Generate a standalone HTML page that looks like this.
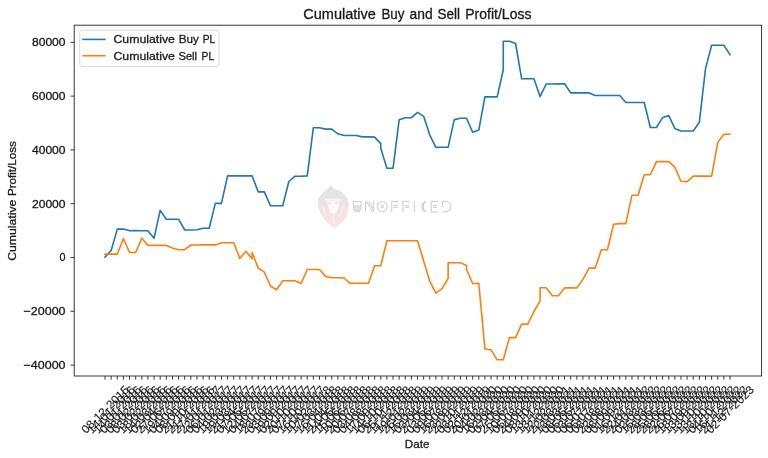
<!DOCTYPE html>
<html><head><meta charset="utf-8"><style>
html,body{margin:0;padding:0;background:#fff;width:768px;height:458px;overflow:hidden}
svg{display:block;filter:blur(0.3px);font-family:"Liberation Sans",sans-serif}
text{filter:grayscale(1);stroke:#1a1a1a;stroke-width:0.3px}
</style></head><body>
<svg width="768" height="458" viewBox="0 0 768 458">
<rect width="768" height="458" fill="#fff"/>
<defs><linearGradient id="lg" x1="0" y1="0" x2="0" y2="1"><stop offset="0" stop-color="#e3e3e3"/><stop offset="0.35" stop-color="#e9e4e4"/><stop offset="0.6" stop-color="#f3e2e2"/><stop offset="1" stop-color="#f6e8e8"/></linearGradient></defs>
<polygon points="330.9,185.6 334.5,189.2 339.7,190.2 342.7,193.3 345.8,196.3 347.9,199.4 348.9,203.5 348.4,209.7 346.9,214.8 344.8,218.9 341.7,223.0 337.6,226.1 334.5,228.7 331.5,226.1 327.3,223.0 323.2,217.9 320.2,212.8 318.1,207.6 317.6,202.5 318.6,197.4 321.7,194.3 324.3,191.2 327.3,189.2 329.4,187.1" fill="url(#lg)"/>
<polygon points="324.3,198.4 341.7,198.4 340.2,200.7 325.8,200.7" fill="#f8f6f6"/>
<polygon points="326.8,201.3 339.2,201.3 338.4,207.1 336.6,212.3 333.3,214.3 330.2,212.3 328.4,207.1" fill="#fbf9f9"/>
<polygon points="327.9,202.0 331.5,203.0 329.4,204.6" fill="#ebe3e3"/>
<polygon points="338.1,202.0 334.5,203.0 336.6,204.6" fill="#ebe3e3"/>
<polyline points="322.7,205.6 324.3,211.7 326.3,216.9" stroke="#faf4f4" stroke-width="1.1" fill="none"/>
<polyline points="343.3,205.6 341.7,211.7 339.7,216.9" stroke="#faf4f4" stroke-width="1.1" fill="none"/>
<polyline points="333.0,215.9 334.0,222.0 334.5,226.1" stroke="#faf2f2" stroke-width="0.9" fill="none"/>

<g fill="none" stroke="#d2d2d2" stroke-width="1.15">
<path d="M353.4,201.6 h7.6 v5.5 a3.8,4.5 0 0 1 -7.6,0 z M354,205.8 h6.4 M354,207.8 h6.4 M354.6,209.8 h5.2"/>
<path d="M365.6,212 v-10.6 M373.4,212 v-10.6 M366.4,201.4 l6.2,10.6 M368.6,201.4 l5,8.6"/>
<circle cx="382.2" cy="206.5" r="5"/><circle cx="382.2" cy="206.5" r="1.1"/>
<path d="M391.7,212 v-10.6 h6.8 M393.3,205.5 h4.6 M393.3,207.4 h4.6"/>
<path d="M402.9,212 v-10.6 h6.6 M404.7,205.5 h4.3 M404.7,207.4 h4.3"/>
<path d="M414.3,201.3 v10.6"/>
<path d="M426.2,201.5 a5.6,5.3 0 0 0 0,10.3 a5,5.6 0 0 1 0,-10.3 z"/>
<path d="M438.1,201.3 h-6.9 v10.5 h6.9 M432.9,205.5 h4 M432.9,207.4 h4"/>
<path d="M442.6,207 v-5.7 h3 a5.2,5.2 0 0 1 0,10.5 h-3"/>
</g>
<polyline points="105.04,257.10 111.17,250.50 117.29,229.10 123.42,229.10 129.55,230.80 135.68,230.60 141.80,230.70 147.93,230.70 154.06,238.20 160.18,210.40 166.31,219.20 172.44,219.20 178.57,219.20 184.69,230.00 190.82,230.00 196.95,229.70 203.07,228.30 209.20,228.30 215.33,203.40 221.45,203.40 227.58,175.90 233.71,175.90 239.84,175.90 245.96,175.90 252.09,175.90 258.22,191.90 264.34,191.90 270.47,205.70 276.60,205.70 282.73,205.70 288.85,181.50 294.98,176.20 301.11,176.20 307.23,175.90 313.36,127.70 319.49,127.70 325.62,129.10 331.74,129.10 337.87,133.80 344.00,135.50 350.12,135.50 356.25,135.50 362.38,136.90 368.51,136.90 374.63,137.10 380.76,143.60 380.76,148.20 386.89,168.30 393.01,168.30 399.14,119.80 405.27,117.70 411.40,117.70 417.52,112.40 423.65,116.30 429.78,135.10 435.90,147.40 442.03,147.20 448.16,147.10 454.28,119.60 460.41,118.20 466.54,118.20 472.67,132.20 478.79,130.10 484.92,96.90 491.05,96.90 497.17,96.90 503.30,69.70 503.30,41.30 509.43,41.30 515.56,43.50 521.68,78.80 527.81,78.80 533.94,78.80 540.06,96.60 546.19,84.00 552.32,84.00 558.45,83.90 564.57,83.80 570.70,92.90 576.83,92.90 582.95,92.90 589.08,92.90 595.21,95.50 601.34,95.50 607.46,95.50 613.59,95.50 619.72,95.50 625.84,102.50 631.97,102.50 638.10,102.50 644.22,102.50 650.35,127.50 656.48,127.50 662.61,117.70 668.73,115.60 674.86,128.40 680.99,131.00 687.11,131.00 693.24,131.00 699.37,122.20 705.50,68.90 711.62,45.30 717.75,45.30 723.88,45.30 730.00,54.70" fill="none" stroke="#1f77b4" stroke-width="1.6" stroke-linejoin="round" stroke-linecap="square"/>
<polyline points="105.04,254.10 111.17,254.10 117.29,254.10 123.42,238.50 129.55,252.50 135.68,252.50 141.80,238.20 147.93,245.40 154.06,245.40 160.18,245.40 166.31,245.40 172.44,248.00 178.57,249.70 184.69,249.70 190.82,245.00 196.95,245.00 203.07,244.90 209.20,244.90 215.33,244.90 221.45,242.70 227.58,242.70 233.71,242.70 239.84,258.40 245.96,251.30 252.09,258.90 252.09,252.20 258.22,268.10 264.34,272.20 270.47,286.00 276.60,289.70 282.73,280.80 288.85,280.80 294.98,280.80 301.11,283.50 307.23,269.50 313.36,269.50 319.49,269.50 325.62,276.40 331.74,277.80 337.87,277.80 344.00,278.00 350.12,283.40 356.25,283.30 362.38,283.30 368.51,283.30 374.63,265.70 380.76,265.70 386.89,240.80 393.01,240.80 399.14,240.80 405.27,240.80 411.40,240.80 417.52,240.70 423.65,260.90 429.78,281.40 435.90,293.20 442.03,288.60 448.16,278.40 448.16,262.70 454.28,262.70 460.41,262.80 466.54,265.50 466.54,269.40 472.67,283.50 478.79,283.40 484.92,349.00 491.05,349.90 497.17,359.80 503.30,359.80 509.43,337.60 515.56,337.60 521.68,324.10 527.81,324.10 533.94,311.50 540.06,300.90 540.06,287.80 546.19,287.80 552.32,295.70 558.45,295.70 564.57,287.90 570.70,287.90 576.83,288.00 582.95,279.40 589.08,268.10 595.21,268.10 601.34,249.80 607.46,249.80 613.59,224.30 619.72,223.60 625.84,223.60 631.97,195.20 638.10,195.20 644.22,174.70 650.35,174.70 656.48,161.60 662.61,161.60 668.73,161.60 674.86,167.20 680.99,181.20 687.11,181.70 693.24,176.10 699.37,176.10 705.50,176.10 711.62,176.10 717.75,142.60 723.88,134.20 730.00,134.20" fill="none" stroke="#ff7f0e" stroke-width="1.6" stroke-linejoin="round" stroke-linecap="square"/>
<rect x="74.20" y="25.20" width="687.40" height="350.80" fill="none" stroke="#222" stroke-width="0.9"/>
<line x1="70.50" y1="42.30" x2="74.20" y2="42.30" stroke="#222" stroke-width="0.9"/>
<text x="31.95" y="46.20" font-family="Liberation Sans, sans-serif" font-size="11.50" fill="#1a1a1a" textLength="33.61" lengthAdjust="spacingAndGlyphs">80000</text>
<line x1="70.50" y1="96.10" x2="74.20" y2="96.10" stroke="#222" stroke-width="0.9"/>
<text x="31.95" y="100.00" font-family="Liberation Sans, sans-serif" font-size="11.50" fill="#1a1a1a" textLength="33.61" lengthAdjust="spacingAndGlyphs">60000</text>
<line x1="70.50" y1="149.90" x2="74.20" y2="149.90" stroke="#222" stroke-width="0.9"/>
<text x="31.95" y="153.80" font-family="Liberation Sans, sans-serif" font-size="11.50" fill="#1a1a1a" textLength="33.61" lengthAdjust="spacingAndGlyphs">40000</text>
<line x1="70.50" y1="203.70" x2="74.20" y2="203.70" stroke="#222" stroke-width="0.9"/>
<text x="31.95" y="207.60" font-family="Liberation Sans, sans-serif" font-size="11.50" fill="#1a1a1a" textLength="33.61" lengthAdjust="spacingAndGlyphs">20000</text>
<line x1="70.50" y1="257.50" x2="74.20" y2="257.50" stroke="#222" stroke-width="0.9"/>
<text x="59.55" y="261.40" font-family="Liberation Sans, sans-serif" font-size="11.50" fill="#1a1a1a" textLength="6.01" lengthAdjust="spacingAndGlyphs">0</text>
<line x1="70.50" y1="311.30" x2="74.20" y2="311.30" stroke="#222" stroke-width="0.9"/>
<text x="23.55" y="315.20" font-family="Liberation Sans, sans-serif" font-size="11.50" fill="#1a1a1a" textLength="42.00" lengthAdjust="spacingAndGlyphs">−20000</text>
<line x1="70.50" y1="365.10" x2="74.20" y2="365.10" stroke="#222" stroke-width="0.9"/>
<text x="23.55" y="369.00" font-family="Liberation Sans, sans-serif" font-size="11.50" fill="#1a1a1a" textLength="42.00" lengthAdjust="spacingAndGlyphs">−40000</text>
<line x1="105.04" y1="376.00" x2="105.04" y2="379.70" stroke="#222" stroke-width="0.9"/>
<line x1="111.17" y1="376.00" x2="111.17" y2="379.70" stroke="#222" stroke-width="0.9"/>
<line x1="117.29" y1="376.00" x2="117.29" y2="379.70" stroke="#222" stroke-width="0.9"/>
<line x1="123.42" y1="376.00" x2="123.42" y2="379.70" stroke="#222" stroke-width="0.9"/>
<line x1="129.55" y1="376.00" x2="129.55" y2="379.70" stroke="#222" stroke-width="0.9"/>
<line x1="135.68" y1="376.00" x2="135.68" y2="379.70" stroke="#222" stroke-width="0.9"/>
<line x1="141.80" y1="376.00" x2="141.80" y2="379.70" stroke="#222" stroke-width="0.9"/>
<line x1="147.93" y1="376.00" x2="147.93" y2="379.70" stroke="#222" stroke-width="0.9"/>
<line x1="154.06" y1="376.00" x2="154.06" y2="379.70" stroke="#222" stroke-width="0.9"/>
<line x1="160.18" y1="376.00" x2="160.18" y2="379.70" stroke="#222" stroke-width="0.9"/>
<line x1="166.31" y1="376.00" x2="166.31" y2="379.70" stroke="#222" stroke-width="0.9"/>
<line x1="172.44" y1="376.00" x2="172.44" y2="379.70" stroke="#222" stroke-width="0.9"/>
<line x1="178.57" y1="376.00" x2="178.57" y2="379.70" stroke="#222" stroke-width="0.9"/>
<line x1="184.69" y1="376.00" x2="184.69" y2="379.70" stroke="#222" stroke-width="0.9"/>
<line x1="190.82" y1="376.00" x2="190.82" y2="379.70" stroke="#222" stroke-width="0.9"/>
<line x1="196.95" y1="376.00" x2="196.95" y2="379.70" stroke="#222" stroke-width="0.9"/>
<line x1="203.07" y1="376.00" x2="203.07" y2="379.70" stroke="#222" stroke-width="0.9"/>
<line x1="209.20" y1="376.00" x2="209.20" y2="379.70" stroke="#222" stroke-width="0.9"/>
<line x1="215.33" y1="376.00" x2="215.33" y2="379.70" stroke="#222" stroke-width="0.9"/>
<line x1="221.45" y1="376.00" x2="221.45" y2="379.70" stroke="#222" stroke-width="0.9"/>
<line x1="227.58" y1="376.00" x2="227.58" y2="379.70" stroke="#222" stroke-width="0.9"/>
<line x1="233.71" y1="376.00" x2="233.71" y2="379.70" stroke="#222" stroke-width="0.9"/>
<line x1="239.84" y1="376.00" x2="239.84" y2="379.70" stroke="#222" stroke-width="0.9"/>
<line x1="245.96" y1="376.00" x2="245.96" y2="379.70" stroke="#222" stroke-width="0.9"/>
<line x1="252.09" y1="376.00" x2="252.09" y2="379.70" stroke="#222" stroke-width="0.9"/>
<line x1="258.22" y1="376.00" x2="258.22" y2="379.70" stroke="#222" stroke-width="0.9"/>
<line x1="264.34" y1="376.00" x2="264.34" y2="379.70" stroke="#222" stroke-width="0.9"/>
<line x1="270.47" y1="376.00" x2="270.47" y2="379.70" stroke="#222" stroke-width="0.9"/>
<line x1="276.60" y1="376.00" x2="276.60" y2="379.70" stroke="#222" stroke-width="0.9"/>
<line x1="282.73" y1="376.00" x2="282.73" y2="379.70" stroke="#222" stroke-width="0.9"/>
<line x1="288.85" y1="376.00" x2="288.85" y2="379.70" stroke="#222" stroke-width="0.9"/>
<line x1="294.98" y1="376.00" x2="294.98" y2="379.70" stroke="#222" stroke-width="0.9"/>
<line x1="301.11" y1="376.00" x2="301.11" y2="379.70" stroke="#222" stroke-width="0.9"/>
<line x1="307.23" y1="376.00" x2="307.23" y2="379.70" stroke="#222" stroke-width="0.9"/>
<line x1="313.36" y1="376.00" x2="313.36" y2="379.70" stroke="#222" stroke-width="0.9"/>
<line x1="319.49" y1="376.00" x2="319.49" y2="379.70" stroke="#222" stroke-width="0.9"/>
<line x1="325.62" y1="376.00" x2="325.62" y2="379.70" stroke="#222" stroke-width="0.9"/>
<line x1="331.74" y1="376.00" x2="331.74" y2="379.70" stroke="#222" stroke-width="0.9"/>
<line x1="337.87" y1="376.00" x2="337.87" y2="379.70" stroke="#222" stroke-width="0.9"/>
<line x1="344.00" y1="376.00" x2="344.00" y2="379.70" stroke="#222" stroke-width="0.9"/>
<line x1="350.12" y1="376.00" x2="350.12" y2="379.70" stroke="#222" stroke-width="0.9"/>
<line x1="356.25" y1="376.00" x2="356.25" y2="379.70" stroke="#222" stroke-width="0.9"/>
<line x1="362.38" y1="376.00" x2="362.38" y2="379.70" stroke="#222" stroke-width="0.9"/>
<line x1="368.51" y1="376.00" x2="368.51" y2="379.70" stroke="#222" stroke-width="0.9"/>
<line x1="374.63" y1="376.00" x2="374.63" y2="379.70" stroke="#222" stroke-width="0.9"/>
<line x1="380.76" y1="376.00" x2="380.76" y2="379.70" stroke="#222" stroke-width="0.9"/>
<line x1="386.89" y1="376.00" x2="386.89" y2="379.70" stroke="#222" stroke-width="0.9"/>
<line x1="393.01" y1="376.00" x2="393.01" y2="379.70" stroke="#222" stroke-width="0.9"/>
<line x1="399.14" y1="376.00" x2="399.14" y2="379.70" stroke="#222" stroke-width="0.9"/>
<line x1="405.27" y1="376.00" x2="405.27" y2="379.70" stroke="#222" stroke-width="0.9"/>
<line x1="411.40" y1="376.00" x2="411.40" y2="379.70" stroke="#222" stroke-width="0.9"/>
<line x1="417.52" y1="376.00" x2="417.52" y2="379.70" stroke="#222" stroke-width="0.9"/>
<line x1="423.65" y1="376.00" x2="423.65" y2="379.70" stroke="#222" stroke-width="0.9"/>
<line x1="429.78" y1="376.00" x2="429.78" y2="379.70" stroke="#222" stroke-width="0.9"/>
<line x1="435.90" y1="376.00" x2="435.90" y2="379.70" stroke="#222" stroke-width="0.9"/>
<line x1="442.03" y1="376.00" x2="442.03" y2="379.70" stroke="#222" stroke-width="0.9"/>
<line x1="448.16" y1="376.00" x2="448.16" y2="379.70" stroke="#222" stroke-width="0.9"/>
<line x1="454.28" y1="376.00" x2="454.28" y2="379.70" stroke="#222" stroke-width="0.9"/>
<line x1="460.41" y1="376.00" x2="460.41" y2="379.70" stroke="#222" stroke-width="0.9"/>
<line x1="466.54" y1="376.00" x2="466.54" y2="379.70" stroke="#222" stroke-width="0.9"/>
<line x1="472.67" y1="376.00" x2="472.67" y2="379.70" stroke="#222" stroke-width="0.9"/>
<line x1="478.79" y1="376.00" x2="478.79" y2="379.70" stroke="#222" stroke-width="0.9"/>
<line x1="484.92" y1="376.00" x2="484.92" y2="379.70" stroke="#222" stroke-width="0.9"/>
<line x1="491.05" y1="376.00" x2="491.05" y2="379.70" stroke="#222" stroke-width="0.9"/>
<line x1="497.17" y1="376.00" x2="497.17" y2="379.70" stroke="#222" stroke-width="0.9"/>
<line x1="503.30" y1="376.00" x2="503.30" y2="379.70" stroke="#222" stroke-width="0.9"/>
<line x1="509.43" y1="376.00" x2="509.43" y2="379.70" stroke="#222" stroke-width="0.9"/>
<line x1="515.56" y1="376.00" x2="515.56" y2="379.70" stroke="#222" stroke-width="0.9"/>
<line x1="521.68" y1="376.00" x2="521.68" y2="379.70" stroke="#222" stroke-width="0.9"/>
<line x1="527.81" y1="376.00" x2="527.81" y2="379.70" stroke="#222" stroke-width="0.9"/>
<line x1="533.94" y1="376.00" x2="533.94" y2="379.70" stroke="#222" stroke-width="0.9"/>
<line x1="540.06" y1="376.00" x2="540.06" y2="379.70" stroke="#222" stroke-width="0.9"/>
<line x1="546.19" y1="376.00" x2="546.19" y2="379.70" stroke="#222" stroke-width="0.9"/>
<line x1="552.32" y1="376.00" x2="552.32" y2="379.70" stroke="#222" stroke-width="0.9"/>
<line x1="558.45" y1="376.00" x2="558.45" y2="379.70" stroke="#222" stroke-width="0.9"/>
<line x1="564.57" y1="376.00" x2="564.57" y2="379.70" stroke="#222" stroke-width="0.9"/>
<line x1="570.70" y1="376.00" x2="570.70" y2="379.70" stroke="#222" stroke-width="0.9"/>
<line x1="576.83" y1="376.00" x2="576.83" y2="379.70" stroke="#222" stroke-width="0.9"/>
<line x1="582.95" y1="376.00" x2="582.95" y2="379.70" stroke="#222" stroke-width="0.9"/>
<line x1="589.08" y1="376.00" x2="589.08" y2="379.70" stroke="#222" stroke-width="0.9"/>
<line x1="595.21" y1="376.00" x2="595.21" y2="379.70" stroke="#222" stroke-width="0.9"/>
<line x1="601.34" y1="376.00" x2="601.34" y2="379.70" stroke="#222" stroke-width="0.9"/>
<line x1="607.46" y1="376.00" x2="607.46" y2="379.70" stroke="#222" stroke-width="0.9"/>
<line x1="613.59" y1="376.00" x2="613.59" y2="379.70" stroke="#222" stroke-width="0.9"/>
<line x1="619.72" y1="376.00" x2="619.72" y2="379.70" stroke="#222" stroke-width="0.9"/>
<line x1="625.84" y1="376.00" x2="625.84" y2="379.70" stroke="#222" stroke-width="0.9"/>
<line x1="631.97" y1="376.00" x2="631.97" y2="379.70" stroke="#222" stroke-width="0.9"/>
<line x1="638.10" y1="376.00" x2="638.10" y2="379.70" stroke="#222" stroke-width="0.9"/>
<line x1="644.22" y1="376.00" x2="644.22" y2="379.70" stroke="#222" stroke-width="0.9"/>
<line x1="650.35" y1="376.00" x2="650.35" y2="379.70" stroke="#222" stroke-width="0.9"/>
<line x1="656.48" y1="376.00" x2="656.48" y2="379.70" stroke="#222" stroke-width="0.9"/>
<line x1="662.61" y1="376.00" x2="662.61" y2="379.70" stroke="#222" stroke-width="0.9"/>
<line x1="668.73" y1="376.00" x2="668.73" y2="379.70" stroke="#222" stroke-width="0.9"/>
<line x1="674.86" y1="376.00" x2="674.86" y2="379.70" stroke="#222" stroke-width="0.9"/>
<line x1="680.99" y1="376.00" x2="680.99" y2="379.70" stroke="#222" stroke-width="0.9"/>
<line x1="687.11" y1="376.00" x2="687.11" y2="379.70" stroke="#222" stroke-width="0.9"/>
<line x1="693.24" y1="376.00" x2="693.24" y2="379.70" stroke="#222" stroke-width="0.9"/>
<line x1="699.37" y1="376.00" x2="699.37" y2="379.70" stroke="#222" stroke-width="0.9"/>
<line x1="705.50" y1="376.00" x2="705.50" y2="379.70" stroke="#222" stroke-width="0.9"/>
<line x1="711.62" y1="376.00" x2="711.62" y2="379.70" stroke="#222" stroke-width="0.9"/>
<line x1="717.75" y1="376.00" x2="717.75" y2="379.70" stroke="#222" stroke-width="0.9"/>
<line x1="723.88" y1="376.00" x2="723.88" y2="379.70" stroke="#222" stroke-width="0.9"/>
<line x1="730.00" y1="376.00" x2="730.00" y2="379.70" stroke="#222" stroke-width="0.9"/>
<text transform="translate(105.04,409.70) rotate(-45)" x="0" y="0" font-family="Liberation Sans, sans-serif" font-size="11.5" fill="#1a1a1a" text-anchor="middle" textLength="61.99" lengthAdjust="spacingAndGlyphs" dy="3.9" style="stroke-width:0.1px">08-12-2015</text>
<text transform="translate(111.17,409.70) rotate(-45)" x="0" y="0" font-family="Liberation Sans, sans-serif" font-size="11.5" fill="#1a1a1a" text-anchor="middle" textLength="61.99" lengthAdjust="spacingAndGlyphs" dy="3.9" style="stroke-width:0.1px">14-01-2016</text>
<text transform="translate(117.29,409.70) rotate(-45)" x="0" y="0" font-family="Liberation Sans, sans-serif" font-size="11.5" fill="#1a1a1a" text-anchor="middle" textLength="61.99" lengthAdjust="spacingAndGlyphs" dy="3.9" style="stroke-width:0.1px">14-01-2016</text>
<text transform="translate(123.42,409.70) rotate(-45)" x="0" y="0" font-family="Liberation Sans, sans-serif" font-size="11.5" fill="#1a1a1a" text-anchor="middle" textLength="61.99" lengthAdjust="spacingAndGlyphs" dy="3.9" style="stroke-width:0.1px">03-01-2016</text>
<text transform="translate(129.55,409.70) rotate(-45)" x="0" y="0" font-family="Liberation Sans, sans-serif" font-size="11.5" fill="#1a1a1a" text-anchor="middle" textLength="61.99" lengthAdjust="spacingAndGlyphs" dy="3.9" style="stroke-width:0.1px">08-02-2016</text>
<text transform="translate(135.68,409.70) rotate(-45)" x="0" y="0" font-family="Liberation Sans, sans-serif" font-size="11.5" fill="#1a1a1a" text-anchor="middle" textLength="61.99" lengthAdjust="spacingAndGlyphs" dy="3.9" style="stroke-width:0.1px">03-02-2016</text>
<text transform="translate(141.80,409.70) rotate(-45)" x="0" y="0" font-family="Liberation Sans, sans-serif" font-size="11.5" fill="#1a1a1a" text-anchor="middle" textLength="61.99" lengthAdjust="spacingAndGlyphs" dy="3.9" style="stroke-width:0.1px">18-02-2016</text>
<text transform="translate(147.93,409.70) rotate(-45)" x="0" y="0" font-family="Liberation Sans, sans-serif" font-size="11.5" fill="#1a1a1a" text-anchor="middle" textLength="61.99" lengthAdjust="spacingAndGlyphs" dy="3.9" style="stroke-width:0.1px">14-03-2016</text>
<text transform="translate(154.06,409.70) rotate(-45)" x="0" y="0" font-family="Liberation Sans, sans-serif" font-size="11.5" fill="#1a1a1a" text-anchor="middle" textLength="61.99" lengthAdjust="spacingAndGlyphs" dy="3.9" style="stroke-width:0.1px">02-04-2016</text>
<text transform="translate(160.18,409.70) rotate(-45)" x="0" y="0" font-family="Liberation Sans, sans-serif" font-size="11.5" fill="#1a1a1a" text-anchor="middle" textLength="61.99" lengthAdjust="spacingAndGlyphs" dy="3.9" style="stroke-width:0.1px">27-06-2016</text>
<text transform="translate(166.31,409.70) rotate(-45)" x="0" y="0" font-family="Liberation Sans, sans-serif" font-size="11.5" fill="#1a1a1a" text-anchor="middle" textLength="61.99" lengthAdjust="spacingAndGlyphs" dy="3.9" style="stroke-width:0.1px">19-07-2016</text>
<text transform="translate(172.44,409.70) rotate(-45)" x="0" y="0" font-family="Liberation Sans, sans-serif" font-size="11.5" fill="#1a1a1a" text-anchor="middle" textLength="61.99" lengthAdjust="spacingAndGlyphs" dy="3.9" style="stroke-width:0.1px">04-09-2016</text>
<text transform="translate(178.57,409.70) rotate(-45)" x="0" y="0" font-family="Liberation Sans, sans-serif" font-size="11.5" fill="#1a1a1a" text-anchor="middle" textLength="61.99" lengthAdjust="spacingAndGlyphs" dy="3.9" style="stroke-width:0.1px">08-09-2016</text>
<text transform="translate(184.69,409.70) rotate(-45)" x="0" y="0" font-family="Liberation Sans, sans-serif" font-size="11.5" fill="#1a1a1a" text-anchor="middle" textLength="61.99" lengthAdjust="spacingAndGlyphs" dy="3.9" style="stroke-width:0.1px">21-10-2016</text>
<text transform="translate(190.82,409.70) rotate(-45)" x="0" y="0" font-family="Liberation Sans, sans-serif" font-size="11.5" fill="#1a1a1a" text-anchor="middle" textLength="61.99" lengthAdjust="spacingAndGlyphs" dy="3.9" style="stroke-width:0.1px">21-11-2016</text>
<text transform="translate(196.95,409.70) rotate(-45)" x="0" y="0" font-family="Liberation Sans, sans-serif" font-size="11.5" fill="#1a1a1a" text-anchor="middle" textLength="61.99" lengthAdjust="spacingAndGlyphs" dy="3.9" style="stroke-width:0.1px">27-01-2017</text>
<text transform="translate(203.07,409.70) rotate(-45)" x="0" y="0" font-family="Liberation Sans, sans-serif" font-size="11.5" fill="#1a1a1a" text-anchor="middle" textLength="61.99" lengthAdjust="spacingAndGlyphs" dy="3.9" style="stroke-width:0.1px">22-01-2017</text>
<text transform="translate(209.20,409.70) rotate(-45)" x="0" y="0" font-family="Liberation Sans, sans-serif" font-size="11.5" fill="#1a1a1a" text-anchor="middle" textLength="61.99" lengthAdjust="spacingAndGlyphs" dy="3.9" style="stroke-width:0.1px">06-01-2017</text>
<text transform="translate(215.33,409.70) rotate(-45)" x="0" y="0" font-family="Liberation Sans, sans-serif" font-size="11.5" fill="#1a1a1a" text-anchor="middle" textLength="61.99" lengthAdjust="spacingAndGlyphs" dy="3.9" style="stroke-width:0.1px">04-02-2017</text>
<text transform="translate(221.45,409.70) rotate(-45)" x="0" y="0" font-family="Liberation Sans, sans-serif" font-size="11.5" fill="#1a1a1a" text-anchor="middle" textLength="61.99" lengthAdjust="spacingAndGlyphs" dy="3.9" style="stroke-width:0.1px">19-03-2017</text>
<text transform="translate(227.58,409.70) rotate(-45)" x="0" y="0" font-family="Liberation Sans, sans-serif" font-size="11.5" fill="#1a1a1a" text-anchor="middle" textLength="61.99" lengthAdjust="spacingAndGlyphs" dy="3.9" style="stroke-width:0.1px">19-03-2017</text>
<text transform="translate(233.71,409.70) rotate(-45)" x="0" y="0" font-family="Liberation Sans, sans-serif" font-size="11.5" fill="#1a1a1a" text-anchor="middle" textLength="61.99" lengthAdjust="spacingAndGlyphs" dy="3.9" style="stroke-width:0.1px">21-04-2017</text>
<text transform="translate(239.84,409.70) rotate(-45)" x="0" y="0" font-family="Liberation Sans, sans-serif" font-size="11.5" fill="#1a1a1a" text-anchor="middle" textLength="61.99" lengthAdjust="spacingAndGlyphs" dy="3.9" style="stroke-width:0.1px">07-05-2017</text>
<text transform="translate(245.96,409.70) rotate(-45)" x="0" y="0" font-family="Liberation Sans, sans-serif" font-size="11.5" fill="#1a1a1a" text-anchor="middle" textLength="61.99" lengthAdjust="spacingAndGlyphs" dy="3.9" style="stroke-width:0.1px">12-05-2017</text>
<text transform="translate(252.09,409.70) rotate(-45)" x="0" y="0" font-family="Liberation Sans, sans-serif" font-size="11.5" fill="#1a1a1a" text-anchor="middle" textLength="61.99" lengthAdjust="spacingAndGlyphs" dy="3.9" style="stroke-width:0.1px">04-07-2017</text>
<text transform="translate(258.22,409.70) rotate(-45)" x="0" y="0" font-family="Liberation Sans, sans-serif" font-size="11.5" fill="#1a1a1a" text-anchor="middle" textLength="61.99" lengthAdjust="spacingAndGlyphs" dy="3.9" style="stroke-width:0.1px">18-07-2017</text>
<text transform="translate(264.34,409.70) rotate(-45)" x="0" y="0" font-family="Liberation Sans, sans-serif" font-size="11.5" fill="#1a1a1a" text-anchor="middle" textLength="61.99" lengthAdjust="spacingAndGlyphs" dy="3.9" style="stroke-width:0.1px">23-09-2017</text>
<text transform="translate(270.47,409.70) rotate(-45)" x="0" y="0" font-family="Liberation Sans, sans-serif" font-size="11.5" fill="#1a1a1a" text-anchor="middle" textLength="61.99" lengthAdjust="spacingAndGlyphs" dy="3.9" style="stroke-width:0.1px">03-09-2017</text>
<text transform="translate(276.60,409.70) rotate(-45)" x="0" y="0" font-family="Liberation Sans, sans-serif" font-size="11.5" fill="#1a1a1a" text-anchor="middle" textLength="61.99" lengthAdjust="spacingAndGlyphs" dy="3.9" style="stroke-width:0.1px">19-09-2017</text>
<text transform="translate(282.73,409.70) rotate(-45)" x="0" y="0" font-family="Liberation Sans, sans-serif" font-size="11.5" fill="#1a1a1a" text-anchor="middle" textLength="61.99" lengthAdjust="spacingAndGlyphs" dy="3.9" style="stroke-width:0.1px">02-10-2017</text>
<text transform="translate(288.85,409.70) rotate(-45)" x="0" y="0" font-family="Liberation Sans, sans-serif" font-size="11.5" fill="#1a1a1a" text-anchor="middle" textLength="61.99" lengthAdjust="spacingAndGlyphs" dy="3.9" style="stroke-width:0.1px">20-10-2017</text>
<text transform="translate(294.98,409.70) rotate(-45)" x="0" y="0" font-family="Liberation Sans, sans-serif" font-size="11.5" fill="#1a1a1a" text-anchor="middle" textLength="61.99" lengthAdjust="spacingAndGlyphs" dy="3.9" style="stroke-width:0.1px">07-10-2017</text>
<text transform="translate(301.11,409.70) rotate(-45)" x="0" y="0" font-family="Liberation Sans, sans-serif" font-size="11.5" fill="#1a1a1a" text-anchor="middle" textLength="61.99" lengthAdjust="spacingAndGlyphs" dy="3.9" style="stroke-width:0.1px">16-10-2017</text>
<text transform="translate(307.23,409.70) rotate(-45)" x="0" y="0" font-family="Liberation Sans, sans-serif" font-size="11.5" fill="#1a1a1a" text-anchor="middle" textLength="61.99" lengthAdjust="spacingAndGlyphs" dy="3.9" style="stroke-width:0.1px">10-02-2018</text>
<text transform="translate(313.36,409.70) rotate(-45)" x="0" y="0" font-family="Liberation Sans, sans-serif" font-size="11.5" fill="#1a1a1a" text-anchor="middle" textLength="61.99" lengthAdjust="spacingAndGlyphs" dy="3.9" style="stroke-width:0.1px">17-03-2018</text>
<text transform="translate(319.49,409.70) rotate(-45)" x="0" y="0" font-family="Liberation Sans, sans-serif" font-size="11.5" fill="#1a1a1a" text-anchor="middle" textLength="61.99" lengthAdjust="spacingAndGlyphs" dy="3.9" style="stroke-width:0.1px">16-04-2018</text>
<text transform="translate(325.62,409.70) rotate(-45)" x="0" y="0" font-family="Liberation Sans, sans-serif" font-size="11.5" fill="#1a1a1a" text-anchor="middle" textLength="61.99" lengthAdjust="spacingAndGlyphs" dy="3.9" style="stroke-width:0.1px">11-04-2018</text>
<text transform="translate(331.74,409.70) rotate(-45)" x="0" y="0" font-family="Liberation Sans, sans-serif" font-size="11.5" fill="#1a1a1a" text-anchor="middle" textLength="61.99" lengthAdjust="spacingAndGlyphs" dy="3.9" style="stroke-width:0.1px">24-05-2018</text>
<text transform="translate(337.87,409.70) rotate(-45)" x="0" y="0" font-family="Liberation Sans, sans-serif" font-size="11.5" fill="#1a1a1a" text-anchor="middle" textLength="61.99" lengthAdjust="spacingAndGlyphs" dy="3.9" style="stroke-width:0.1px">15-06-2018</text>
<text transform="translate(344.00,409.70) rotate(-45)" x="0" y="0" font-family="Liberation Sans, sans-serif" font-size="11.5" fill="#1a1a1a" text-anchor="middle" textLength="61.99" lengthAdjust="spacingAndGlyphs" dy="3.9" style="stroke-width:0.1px">10-06-2018</text>
<text transform="translate(350.12,409.70) rotate(-45)" x="0" y="0" font-family="Liberation Sans, sans-serif" font-size="11.5" fill="#1a1a1a" text-anchor="middle" textLength="61.99" lengthAdjust="spacingAndGlyphs" dy="3.9" style="stroke-width:0.1px">20-07-2018</text>
<text transform="translate(356.25,409.70) rotate(-45)" x="0" y="0" font-family="Liberation Sans, sans-serif" font-size="11.5" fill="#1a1a1a" text-anchor="middle" textLength="61.99" lengthAdjust="spacingAndGlyphs" dy="3.9" style="stroke-width:0.1px">03-08-2018</text>
<text transform="translate(362.38,409.70) rotate(-45)" x="0" y="0" font-family="Liberation Sans, sans-serif" font-size="11.5" fill="#1a1a1a" text-anchor="middle" textLength="61.99" lengthAdjust="spacingAndGlyphs" dy="3.9" style="stroke-width:0.1px">04-08-2018</text>
<text transform="translate(368.51,409.70) rotate(-45)" x="0" y="0" font-family="Liberation Sans, sans-serif" font-size="11.5" fill="#1a1a1a" text-anchor="middle" textLength="61.99" lengthAdjust="spacingAndGlyphs" dy="3.9" style="stroke-width:0.1px">17-09-2018</text>
<text transform="translate(374.63,409.70) rotate(-45)" x="0" y="0" font-family="Liberation Sans, sans-serif" font-size="11.5" fill="#1a1a1a" text-anchor="middle" textLength="61.99" lengthAdjust="spacingAndGlyphs" dy="3.9" style="stroke-width:0.1px">14-10-2018</text>
<text transform="translate(380.76,409.70) rotate(-45)" x="0" y="0" font-family="Liberation Sans, sans-serif" font-size="11.5" fill="#1a1a1a" text-anchor="middle" textLength="61.99" lengthAdjust="spacingAndGlyphs" dy="3.9" style="stroke-width:0.1px">06-10-2018</text>
<text transform="translate(386.89,409.70) rotate(-45)" x="0" y="0" font-family="Liberation Sans, sans-serif" font-size="11.5" fill="#1a1a1a" text-anchor="middle" textLength="61.99" lengthAdjust="spacingAndGlyphs" dy="3.9" style="stroke-width:0.1px">25-11-2018</text>
<text transform="translate(393.01,409.70) rotate(-45)" x="0" y="0" font-family="Liberation Sans, sans-serif" font-size="11.5" fill="#1a1a1a" text-anchor="middle" textLength="61.99" lengthAdjust="spacingAndGlyphs" dy="3.9" style="stroke-width:0.1px">11-12-2018</text>
<text transform="translate(399.14,409.70) rotate(-45)" x="0" y="0" font-family="Liberation Sans, sans-serif" font-size="11.5" fill="#1a1a1a" text-anchor="middle" textLength="61.99" lengthAdjust="spacingAndGlyphs" dy="3.9" style="stroke-width:0.1px">19-01-2019</text>
<text transform="translate(405.27,409.70) rotate(-45)" x="0" y="0" font-family="Liberation Sans, sans-serif" font-size="11.5" fill="#1a1a1a" text-anchor="middle" textLength="61.99" lengthAdjust="spacingAndGlyphs" dy="3.9" style="stroke-width:0.1px">26-02-2019</text>
<text transform="translate(411.40,409.70) rotate(-45)" x="0" y="0" font-family="Liberation Sans, sans-serif" font-size="11.5" fill="#1a1a1a" text-anchor="middle" textLength="61.99" lengthAdjust="spacingAndGlyphs" dy="3.9" style="stroke-width:0.1px">15-03-2019</text>
<text transform="translate(417.52,409.70) rotate(-45)" x="0" y="0" font-family="Liberation Sans, sans-serif" font-size="11.5" fill="#1a1a1a" text-anchor="middle" textLength="61.99" lengthAdjust="spacingAndGlyphs" dy="3.9" style="stroke-width:0.1px">03-04-2019</text>
<text transform="translate(423.65,409.70) rotate(-45)" x="0" y="0" font-family="Liberation Sans, sans-serif" font-size="11.5" fill="#1a1a1a" text-anchor="middle" textLength="61.99" lengthAdjust="spacingAndGlyphs" dy="3.9" style="stroke-width:0.1px">27-05-2019</text>
<text transform="translate(429.78,409.70) rotate(-45)" x="0" y="0" font-family="Liberation Sans, sans-serif" font-size="11.5" fill="#1a1a1a" text-anchor="middle" textLength="61.99" lengthAdjust="spacingAndGlyphs" dy="3.9" style="stroke-width:0.1px">03-06-2019</text>
<text transform="translate(435.90,409.70) rotate(-45)" x="0" y="0" font-family="Liberation Sans, sans-serif" font-size="11.5" fill="#1a1a1a" text-anchor="middle" textLength="61.99" lengthAdjust="spacingAndGlyphs" dy="3.9" style="stroke-width:0.1px">09-07-2019</text>
<text transform="translate(442.03,409.70) rotate(-45)" x="0" y="0" font-family="Liberation Sans, sans-serif" font-size="11.5" fill="#1a1a1a" text-anchor="middle" textLength="61.99" lengthAdjust="spacingAndGlyphs" dy="3.9" style="stroke-width:0.1px">16-08-2019</text>
<text transform="translate(448.16,409.70) rotate(-45)" x="0" y="0" font-family="Liberation Sans, sans-serif" font-size="11.5" fill="#1a1a1a" text-anchor="middle" textLength="61.99" lengthAdjust="spacingAndGlyphs" dy="3.9" style="stroke-width:0.1px">23-09-2019</text>
<text transform="translate(454.28,409.70) rotate(-45)" x="0" y="0" font-family="Liberation Sans, sans-serif" font-size="11.5" fill="#1a1a1a" text-anchor="middle" textLength="61.99" lengthAdjust="spacingAndGlyphs" dy="3.9" style="stroke-width:0.1px">22-10-2019</text>
<text transform="translate(460.41,409.70) rotate(-45)" x="0" y="0" font-family="Liberation Sans, sans-serif" font-size="11.5" fill="#1a1a1a" text-anchor="middle" textLength="61.99" lengthAdjust="spacingAndGlyphs" dy="3.9" style="stroke-width:0.1px">03-11-2019</text>
<text transform="translate(466.54,409.70) rotate(-45)" x="0" y="0" font-family="Liberation Sans, sans-serif" font-size="11.5" fill="#1a1a1a" text-anchor="middle" textLength="61.99" lengthAdjust="spacingAndGlyphs" dy="3.9" style="stroke-width:0.1px">02-12-2019</text>
<text transform="translate(472.67,409.70) rotate(-45)" x="0" y="0" font-family="Liberation Sans, sans-serif" font-size="11.5" fill="#1a1a1a" text-anchor="middle" textLength="61.99" lengthAdjust="spacingAndGlyphs" dy="3.9" style="stroke-width:0.1px">20-01-2020</text>
<text transform="translate(478.79,409.70) rotate(-45)" x="0" y="0" font-family="Liberation Sans, sans-serif" font-size="11.5" fill="#1a1a1a" text-anchor="middle" textLength="61.99" lengthAdjust="spacingAndGlyphs" dy="3.9" style="stroke-width:0.1px">04-02-2020</text>
<text transform="translate(484.92,409.70) rotate(-45)" x="0" y="0" font-family="Liberation Sans, sans-serif" font-size="11.5" fill="#1a1a1a" text-anchor="middle" textLength="61.99" lengthAdjust="spacingAndGlyphs" dy="3.9" style="stroke-width:0.1px">16-03-2020</text>
<text transform="translate(491.05,409.70) rotate(-45)" x="0" y="0" font-family="Liberation Sans, sans-serif" font-size="11.5" fill="#1a1a1a" text-anchor="middle" textLength="61.99" lengthAdjust="spacingAndGlyphs" dy="3.9" style="stroke-width:0.1px">02-04-2020</text>
<text transform="translate(497.17,409.70) rotate(-45)" x="0" y="0" font-family="Liberation Sans, sans-serif" font-size="11.5" fill="#1a1a1a" text-anchor="middle" textLength="61.99" lengthAdjust="spacingAndGlyphs" dy="3.9" style="stroke-width:0.1px">07-05-2020</text>
<text transform="translate(503.30,409.70) rotate(-45)" x="0" y="0" font-family="Liberation Sans, sans-serif" font-size="11.5" fill="#1a1a1a" text-anchor="middle" textLength="61.99" lengthAdjust="spacingAndGlyphs" dy="3.9" style="stroke-width:0.1px">25-06-2020</text>
<text transform="translate(509.43,409.70) rotate(-45)" x="0" y="0" font-family="Liberation Sans, sans-serif" font-size="11.5" fill="#1a1a1a" text-anchor="middle" textLength="61.99" lengthAdjust="spacingAndGlyphs" dy="3.9" style="stroke-width:0.1px">10-07-2020</text>
<text transform="translate(515.56,409.70) rotate(-45)" x="0" y="0" font-family="Liberation Sans, sans-serif" font-size="11.5" fill="#1a1a1a" text-anchor="middle" textLength="61.99" lengthAdjust="spacingAndGlyphs" dy="3.9" style="stroke-width:0.1px">05-08-2020</text>
<text transform="translate(521.68,409.70) rotate(-45)" x="0" y="0" font-family="Liberation Sans, sans-serif" font-size="11.5" fill="#1a1a1a" text-anchor="middle" textLength="61.99" lengthAdjust="spacingAndGlyphs" dy="3.9" style="stroke-width:0.1px">24-09-2020</text>
<text transform="translate(527.81,409.70) rotate(-45)" x="0" y="0" font-family="Liberation Sans, sans-serif" font-size="11.5" fill="#1a1a1a" text-anchor="middle" textLength="61.99" lengthAdjust="spacingAndGlyphs" dy="3.9" style="stroke-width:0.1px">08-10-2020</text>
<text transform="translate(533.94,409.70) rotate(-45)" x="0" y="0" font-family="Liberation Sans, sans-serif" font-size="11.5" fill="#1a1a1a" text-anchor="middle" textLength="61.99" lengthAdjust="spacingAndGlyphs" dy="3.9" style="stroke-width:0.1px">13-11-2020</text>
<text transform="translate(540.06,409.70) rotate(-45)" x="0" y="0" font-family="Liberation Sans, sans-serif" font-size="11.5" fill="#1a1a1a" text-anchor="middle" textLength="61.99" lengthAdjust="spacingAndGlyphs" dy="3.9" style="stroke-width:0.1px">13-12-2020</text>
<text transform="translate(546.19,409.70) rotate(-45)" x="0" y="0" font-family="Liberation Sans, sans-serif" font-size="11.5" fill="#1a1a1a" text-anchor="middle" textLength="61.99" lengthAdjust="spacingAndGlyphs" dy="3.9" style="stroke-width:0.1px">12-02-2021</text>
<text transform="translate(552.32,409.70) rotate(-45)" x="0" y="0" font-family="Liberation Sans, sans-serif" font-size="11.5" fill="#1a1a1a" text-anchor="middle" textLength="61.99" lengthAdjust="spacingAndGlyphs" dy="3.9" style="stroke-width:0.1px">22-03-2021</text>
<text transform="translate(558.45,409.70) rotate(-45)" x="0" y="0" font-family="Liberation Sans, sans-serif" font-size="11.5" fill="#1a1a1a" text-anchor="middle" textLength="61.99" lengthAdjust="spacingAndGlyphs" dy="3.9" style="stroke-width:0.1px">13-03-2021</text>
<text transform="translate(564.57,409.70) rotate(-45)" x="0" y="0" font-family="Liberation Sans, sans-serif" font-size="11.5" fill="#1a1a1a" text-anchor="middle" textLength="61.99" lengthAdjust="spacingAndGlyphs" dy="3.9" style="stroke-width:0.1px">08-05-2021</text>
<text transform="translate(570.70,409.70) rotate(-45)" x="0" y="0" font-family="Liberation Sans, sans-serif" font-size="11.5" fill="#1a1a1a" text-anchor="middle" textLength="61.99" lengthAdjust="spacingAndGlyphs" dy="3.9" style="stroke-width:0.1px">05-05-2021</text>
<text transform="translate(576.83,409.70) rotate(-45)" x="0" y="0" font-family="Liberation Sans, sans-serif" font-size="11.5" fill="#1a1a1a" text-anchor="middle" textLength="61.99" lengthAdjust="spacingAndGlyphs" dy="3.9" style="stroke-width:0.1px">03-07-2021</text>
<text transform="translate(582.95,409.70) rotate(-45)" x="0" y="0" font-family="Liberation Sans, sans-serif" font-size="11.5" fill="#1a1a1a" text-anchor="middle" textLength="61.99" lengthAdjust="spacingAndGlyphs" dy="3.9" style="stroke-width:0.1px">06-07-2021</text>
<text transform="translate(589.08,409.70) rotate(-45)" x="0" y="0" font-family="Liberation Sans, sans-serif" font-size="11.5" fill="#1a1a1a" text-anchor="middle" textLength="61.99" lengthAdjust="spacingAndGlyphs" dy="3.9" style="stroke-width:0.1px">05-07-2021</text>
<text transform="translate(595.21,409.70) rotate(-45)" x="0" y="0" font-family="Liberation Sans, sans-serif" font-size="11.5" fill="#1a1a1a" text-anchor="middle" textLength="61.99" lengthAdjust="spacingAndGlyphs" dy="3.9" style="stroke-width:0.1px">08-08-2021</text>
<text transform="translate(601.34,409.70) rotate(-45)" x="0" y="0" font-family="Liberation Sans, sans-serif" font-size="11.5" fill="#1a1a1a" text-anchor="middle" textLength="61.99" lengthAdjust="spacingAndGlyphs" dy="3.9" style="stroke-width:0.1px">22-08-2021</text>
<text transform="translate(607.46,409.70) rotate(-45)" x="0" y="0" font-family="Liberation Sans, sans-serif" font-size="11.5" fill="#1a1a1a" text-anchor="middle" textLength="61.99" lengthAdjust="spacingAndGlyphs" dy="3.9" style="stroke-width:0.1px">08-09-2021</text>
<text transform="translate(613.59,409.70) rotate(-45)" x="0" y="0" font-family="Liberation Sans, sans-serif" font-size="11.5" fill="#1a1a1a" text-anchor="middle" textLength="61.99" lengthAdjust="spacingAndGlyphs" dy="3.9" style="stroke-width:0.1px">01-09-2021</text>
<text transform="translate(619.72,409.70) rotate(-45)" x="0" y="0" font-family="Liberation Sans, sans-serif" font-size="11.5" fill="#1a1a1a" text-anchor="middle" textLength="61.99" lengthAdjust="spacingAndGlyphs" dy="3.9" style="stroke-width:0.1px">16-12-2021</text>
<text transform="translate(625.84,409.70) rotate(-45)" x="0" y="0" font-family="Liberation Sans, sans-serif" font-size="11.5" fill="#1a1a1a" text-anchor="middle" textLength="61.99" lengthAdjust="spacingAndGlyphs" dy="3.9" style="stroke-width:0.1px">22-01-2022</text>
<text transform="translate(631.97,409.70) rotate(-45)" x="0" y="0" font-family="Liberation Sans, sans-serif" font-size="11.5" fill="#1a1a1a" text-anchor="middle" textLength="61.99" lengthAdjust="spacingAndGlyphs" dy="3.9" style="stroke-width:0.1px">24-03-2022</text>
<text transform="translate(638.10,409.70) rotate(-45)" x="0" y="0" font-family="Liberation Sans, sans-serif" font-size="11.5" fill="#1a1a1a" text-anchor="middle" textLength="61.99" lengthAdjust="spacingAndGlyphs" dy="3.9" style="stroke-width:0.1px">02-03-2022</text>
<text transform="translate(644.22,409.70) rotate(-45)" x="0" y="0" font-family="Liberation Sans, sans-serif" font-size="11.5" fill="#1a1a1a" text-anchor="middle" textLength="61.99" lengthAdjust="spacingAndGlyphs" dy="3.9" style="stroke-width:0.1px">15-03-2022</text>
<text transform="translate(650.35,409.70) rotate(-45)" x="0" y="0" font-family="Liberation Sans, sans-serif" font-size="11.5" fill="#1a1a1a" text-anchor="middle" textLength="61.99" lengthAdjust="spacingAndGlyphs" dy="3.9" style="stroke-width:0.1px">28-05-2022</text>
<text transform="translate(656.48,409.70) rotate(-45)" x="0" y="0" font-family="Liberation Sans, sans-serif" font-size="11.5" fill="#1a1a1a" text-anchor="middle" textLength="61.99" lengthAdjust="spacingAndGlyphs" dy="3.9" style="stroke-width:0.1px">25-05-2022</text>
<text transform="translate(662.61,409.70) rotate(-45)" x="0" y="0" font-family="Liberation Sans, sans-serif" font-size="11.5" fill="#1a1a1a" text-anchor="middle" textLength="61.99" lengthAdjust="spacingAndGlyphs" dy="3.9" style="stroke-width:0.1px">28-06-2022</text>
<text transform="translate(668.73,409.70) rotate(-45)" x="0" y="0" font-family="Liberation Sans, sans-serif" font-size="11.5" fill="#1a1a1a" text-anchor="middle" textLength="61.99" lengthAdjust="spacingAndGlyphs" dy="3.9" style="stroke-width:0.1px">22-06-2022</text>
<text transform="translate(674.86,409.70) rotate(-45)" x="0" y="0" font-family="Liberation Sans, sans-serif" font-size="11.5" fill="#1a1a1a" text-anchor="middle" textLength="61.99" lengthAdjust="spacingAndGlyphs" dy="3.9" style="stroke-width:0.1px">26-07-2022</text>
<text transform="translate(680.99,409.70) rotate(-45)" x="0" y="0" font-family="Liberation Sans, sans-serif" font-size="11.5" fill="#1a1a1a" text-anchor="middle" textLength="61.99" lengthAdjust="spacingAndGlyphs" dy="3.9" style="stroke-width:0.1px">18-09-2022</text>
<text transform="translate(687.11,409.70) rotate(-45)" x="0" y="0" font-family="Liberation Sans, sans-serif" font-size="11.5" fill="#1a1a1a" text-anchor="middle" textLength="61.99" lengthAdjust="spacingAndGlyphs" dy="3.9" style="stroke-width:0.1px">13-09-2022</text>
<text transform="translate(693.24,409.70) rotate(-45)" x="0" y="0" font-family="Liberation Sans, sans-serif" font-size="11.5" fill="#1a1a1a" text-anchor="middle" textLength="61.99" lengthAdjust="spacingAndGlyphs" dy="3.9" style="stroke-width:0.1px">13-10-2022</text>
<text transform="translate(699.37,409.70) rotate(-45)" x="0" y="0" font-family="Liberation Sans, sans-serif" font-size="11.5" fill="#1a1a1a" text-anchor="middle" textLength="61.99" lengthAdjust="spacingAndGlyphs" dy="3.9" style="stroke-width:0.1px">13-10-2022</text>
<text transform="translate(705.50,409.70) rotate(-45)" x="0" y="0" font-family="Liberation Sans, sans-serif" font-size="11.5" fill="#1a1a1a" text-anchor="middle" textLength="61.99" lengthAdjust="spacingAndGlyphs" dy="3.9" style="stroke-width:0.1px">13-10-2022</text>
<text transform="translate(711.62,409.70) rotate(-45)" x="0" y="0" font-family="Liberation Sans, sans-serif" font-size="11.5" fill="#1a1a1a" text-anchor="middle" textLength="61.99" lengthAdjust="spacingAndGlyphs" dy="3.9" style="stroke-width:0.1px">04-10-2022</text>
<text transform="translate(717.75,409.70) rotate(-45)" x="0" y="0" font-family="Liberation Sans, sans-serif" font-size="11.5" fill="#1a1a1a" text-anchor="middle" textLength="61.99" lengthAdjust="spacingAndGlyphs" dy="3.9" style="stroke-width:0.1px">16-11-2022</text>
<text transform="translate(723.88,409.70) rotate(-45)" x="0" y="0" font-family="Liberation Sans, sans-serif" font-size="11.5" fill="#1a1a1a" text-anchor="middle" textLength="61.99" lengthAdjust="spacingAndGlyphs" dy="3.9" style="stroke-width:0.1px">21-12-2022</text>
<text transform="translate(730.00,409.70) rotate(-45)" x="0" y="0" font-family="Liberation Sans, sans-serif" font-size="11.5" fill="#1a1a1a" text-anchor="middle" textLength="61.99" lengthAdjust="spacingAndGlyphs" dy="3.9" style="stroke-width:0.1px">02-07-2023</text>
<text x="303.25" y="18.70" font-family="Liberation Sans, sans-serif" font-size="14.00" fill="#1a1a1a" textLength="72.63" lengthAdjust="spacingAndGlyphs">Cumulative</text>
<text x="381.45" y="18.70" font-family="Liberation Sans, sans-serif" font-size="14.00" fill="#1a1a1a" textLength="23.08" lengthAdjust="spacingAndGlyphs">Buy</text>
<text x="409.55" y="18.70" font-family="Liberation Sans, sans-serif" font-size="14.00" fill="#1a1a1a" textLength="23.08" lengthAdjust="spacingAndGlyphs">and</text>
<text x="437.55" y="18.70" font-family="Liberation Sans, sans-serif" font-size="14.00" fill="#1a1a1a" textLength="22.47" lengthAdjust="spacingAndGlyphs">Sell</text>
<text x="465.25" y="18.70" font-family="Liberation Sans, sans-serif" font-size="14.00" fill="#1a1a1a" textLength="66.19" lengthAdjust="spacingAndGlyphs">Profit/Loss</text>
<text x="404.85" y="447.50" font-family="Liberation Sans, sans-serif" font-size="11.50" fill="#1a1a1a" textLength="24.53" lengthAdjust="spacingAndGlyphs">Date</text>
<g transform="rotate(-90)"><text x="-260.75" y="15.50" font-family="Liberation Sans, sans-serif" font-size="11.50" fill="#1a1a1a" textLength="61.13" lengthAdjust="spacingAndGlyphs">Cumulative</text><text x="-196.05" y="15.50" font-family="Liberation Sans, sans-serif" font-size="11.50" fill="#1a1a1a" textLength="54.89" lengthAdjust="spacingAndGlyphs">Profit/Loss</text></g>
<rect x="79.7" y="30.3" width="139.3" height="36.2" rx="2.2" fill="#fff" fill-opacity="0.8" stroke="#d6d6d6" stroke-width="0.9"/>
<line x1="82.3" y1="39.4" x2="105.6" y2="39.4" stroke="#1f77b4" stroke-width="1.6"/>
<line x1="82.3" y1="55.7" x2="105.6" y2="55.7" stroke="#ff7f0e" stroke-width="1.6"/>
<text x="113.45" y="43.30" font-family="Liberation Sans, sans-serif" font-size="11.50" fill="#1a1a1a" textLength="61.53" lengthAdjust="spacingAndGlyphs">Cumulative</text>
<text x="178.75" y="43.30" font-family="Liberation Sans, sans-serif" font-size="11.50" fill="#1a1a1a" textLength="20.08" lengthAdjust="spacingAndGlyphs">Buy</text>
<text x="202.65" y="43.30" font-family="Liberation Sans, sans-serif" font-size="11.50" fill="#1a1a1a" textLength="12.58" lengthAdjust="spacingAndGlyphs">PL</text>
<text x="113.45" y="59.50" font-family="Liberation Sans, sans-serif" font-size="11.50" fill="#1a1a1a" textLength="61.53" lengthAdjust="spacingAndGlyphs">Cumulative</text>
<text x="178.45" y="59.50" font-family="Liberation Sans, sans-serif" font-size="11.50" fill="#1a1a1a" textLength="18.67" lengthAdjust="spacingAndGlyphs">Sell</text>
<text x="201.55" y="59.50" font-family="Liberation Sans, sans-serif" font-size="11.50" fill="#1a1a1a" textLength="12.58" lengthAdjust="spacingAndGlyphs">PL</text>
</svg>
</body></html>
